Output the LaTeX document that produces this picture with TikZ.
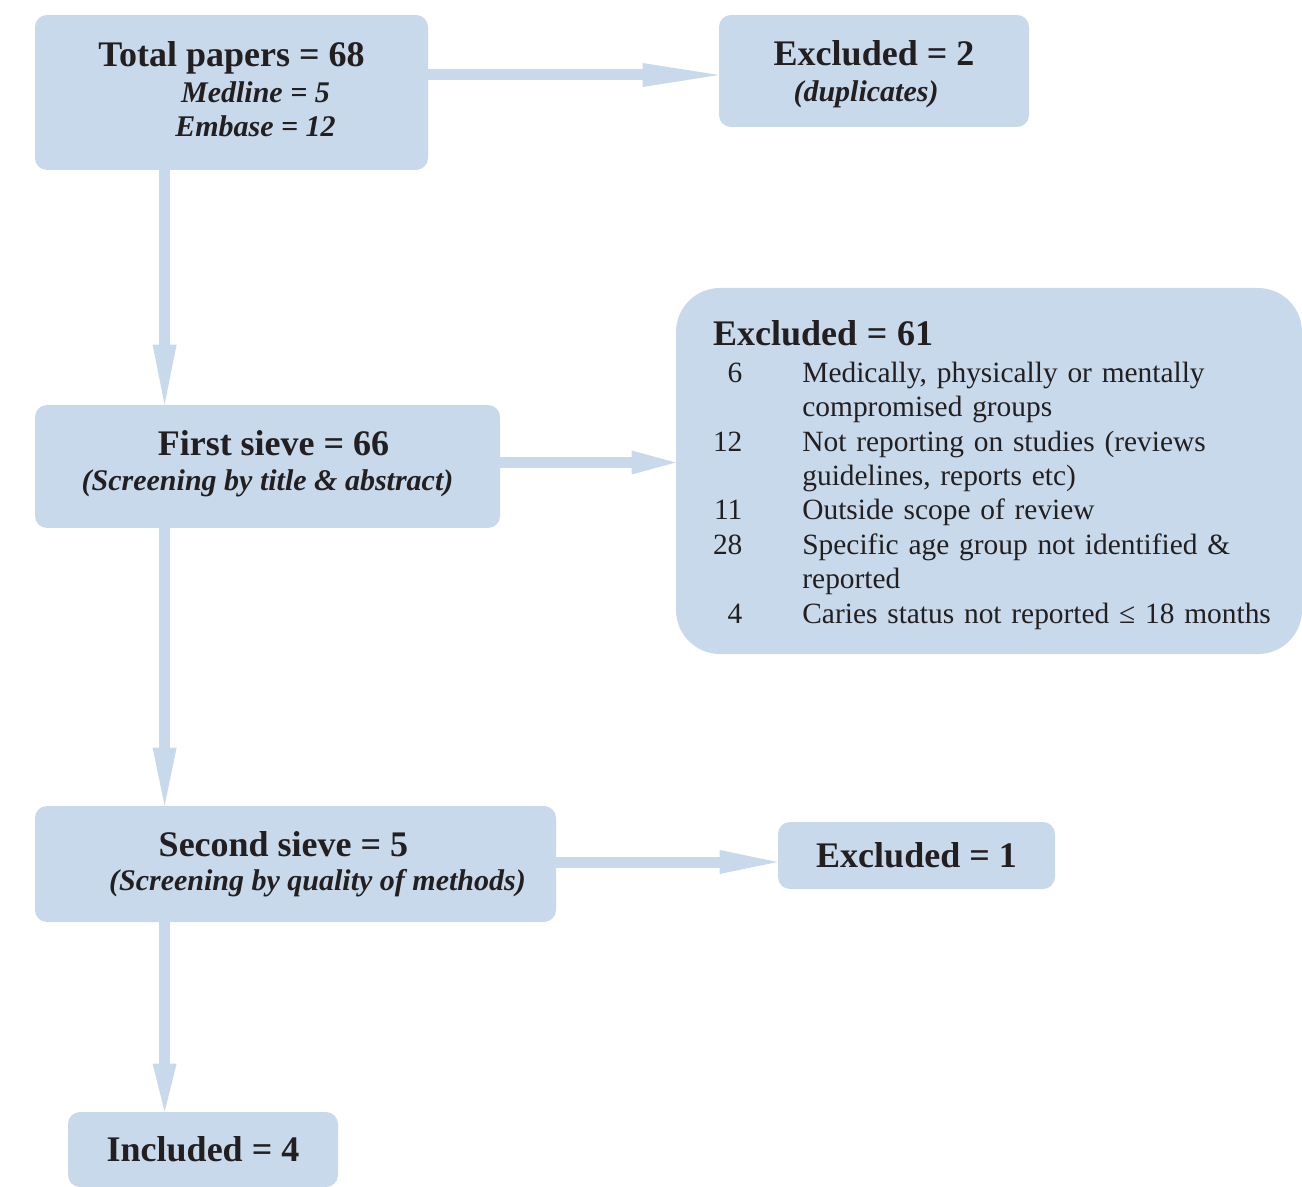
\documentclass[tikz,border=0pt]{standalone}
\usepackage{fontspec}
\setmainfont{Liberation Serif}
\usetikzlibrary{arrows.meta}
\definecolor{boxblue}{RGB}{199,217,234}
\definecolor{inkgray}{RGB}{35,31,32}

\begin{document}
\begin{tikzpicture}[x=0.5pt, y=-0.5pt,
	box/.style={fill=boxblue, rounded corners=6pt, align=center, inner sep=0pt, text=inkgray,
		font=\fontsize{15}{17}\selectfont\bfseries\itshape},
	head/.style={font=\fontsize{18}{20}\selectfont\bfseries},
	flow/.style={draw=boxblue, line width=5.5pt, -{Triangle[length=#1, width=12pt, line width=0pt]}},
	flow/.default=28pt]
	\useasboundingbox (0,0) rectangle (1302,1187);

	% boxes of the sieve
	\node[box, minimum width=196.5pt, minimum height=77.5pt] (Tp) at (231.5,92.5)
		{{\fontsize{18}{20}\selectfont\upshape Total papers = 68}\\[1pt]
		\hspace*{24pt}Medline = 5\\
		\hspace*{24pt}Embase = 12\rule[-3pt]{0pt}{3pt}};
	\node[box, minimum width=232.5pt, minimum height=61.5pt] (Fs) at (267.5,466.5)
		{\hspace*{6pt}{\fontsize{18}{20}\selectfont\upshape First sieve = 66}\\[0.5pt]
		(Screening by title \& abstract)\rule[-6.3pt]{0pt}{6.3pt}};
	\node[box, minimum width=260.5pt, minimum height=58pt] (Ss) at (295.5,864)
		{{\fontsize{18}{20}\selectfont\upshape Second sieve = 5}\hspace*{12pt}\\
		\hspace*{22pt}(Screening by quality of methods)};
	\node[box, head, minimum width=135pt, minimum height=37.5pt] (Inc) at (203,1149.5)
		{Included = 4};

	% excluded boxes
	\node[box, minimum width=155pt, minimum height=56pt] (Ea) at (874,71)
		{\rule{0pt}{15.3pt}{\fontsize{18}{20}\selectfont\upshape Excluded = 2}\\[1pt]
		(duplicates)\hspace*{8pt}};
	\node[box, rounded corners=22pt, align=left, text width=276pt,
		font=\fontsize{14.7}{17.2}\selectfont,
		minimum width=313pt, minimum height=183pt] (Eb) at (989,471)
		{\rule{0pt}{18.3pt}{\fontsize{18}{20}\selectfont\bfseries Excluded = 61}\\[1.3pt]
		\begin{tabular}[t]{@{}r@{\hspace{30pt}}l@{}}
			6 & Medically, physically or mentally\\
			  & compromised groups\\
			12 & Not reporting on studies (reviews\\
			   & guidelines, reports etc)\\
			11 & Outside scope of review\\
			28 & Specific age group not identified \&\\
			   & reported\\
			4 & Caries status not reported ≤ 18 months
		\end{tabular}};
	\node[box, head, minimum width=138.5pt, minimum height=33.5pt] (Ec) at (916.5,855.5)
		{Excluded = 1};

	% arrows
	\draw[flow=38pt] ([yshift=-2pt]Tp.east |- Ea.west) -- ([yshift=-2pt]Ea.west);
	\draw[flow=30pt] ([xshift=65pt]Tp.south west) -- ([xshift=65pt]Fs.north west);
	\draw[flow=22pt] ([yshift=2pt]Fs.east) -- ([yshift=2pt]Fs.east -| Eb.west);
	\draw[flow=29pt] ([xshift=65pt]Fs.south west) -- ([xshift=65pt]Ss.north west);
	\draw[flow=29pt] ([yshift=1pt]Ss.east) -- ([yshift=1pt]Ss.east -| Ec.west);
	\draw[flow=24pt] ([xshift=65pt]Ss.south west) -- ([xshift=48.5pt]Inc.north west);
\end{tikzpicture}
\end{document}
